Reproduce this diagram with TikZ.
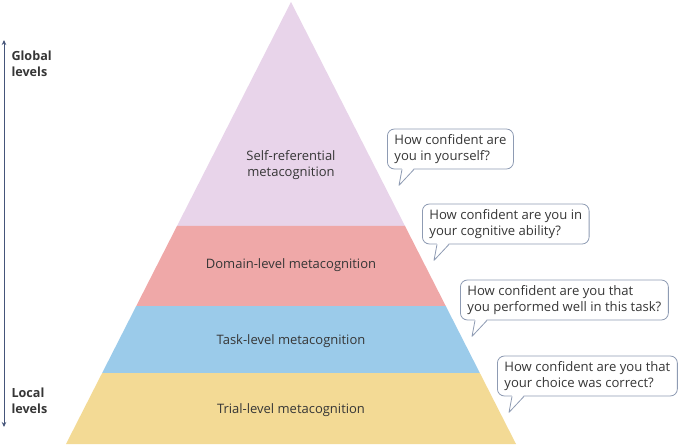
\documentclass[tikz,border=0pt]{standalone}
\usepackage{fontspec}
\setmainfont{Open Sans}
\usetikzlibrary{arrows.meta,calc}
\definecolor{selfcol}{HTML}{E8D4EA}
\definecolor{domcol}{HTML}{EFA8A8}
\definecolor{taskcol}{HTML}{9BCBEA}
\definecolor{trialcol}{HTML}{F3DA95}
\definecolor{bubbleborder}{HTML}{8E9BB3}
\definecolor{arrowcol}{HTML}{45557A}
\definecolor{textgray}{HTML}{363636}
\tikzset{
  bubble/.style={draw=bubbleborder, line width=0.8pt, fill=white, rounded corners=7pt,
    align=left, inner xsep=7pt, inner ysep=5pt, text=textgray,
    font=\fontsize{13.1}{16.8}\selectfont},
  bubbleline/.style={draw=bubbleborder, line width=0.8pt, line join=round},
  bandlabel/.style={text=textgray, align=center, font=\fontsize{13}{16.5}\selectfont},
  levellabel/.style={text=textgray, align=left, anchor=north west, font=\bfseries\fontsize{12.6}{16}\selectfont},
  levelarrow/.style={draw=arrowcol, line width=1pt, {Stealth[length=5pt,width=4.5pt]}-{Stealth[length=5pt,width=4.5pt]}}
}
\newcommand{\bubbletail}[1]{%
  \fill[white] ($(#1.south west)+(15,-1.5)$) -- ($(#1.south west)+(12,16)$) -- ($(#1.south west)+(27,-1.5)$) -- cycle;
  \draw[bubbleline] ($(#1.south west)+(15,0)$) -- ($(#1.south west)+(12,16)$) -- ($(#1.south west)+(27,0)$);
}
\begin{document}
\begin{tikzpicture}[x=1pt,y=-1pt]
\useasboundingbox (0,0) rectangle (685,446);
% pyramid bands
\fill[selfcol] (291,2) -- (405,226) -- (177,226) -- cycle;
\fill[domcol] (177,226) -- (405,226) -- (445.75,306) -- (136.25,306) -- cycle;
\fill[taskcol] (136.25,306) -- (445.75,306) -- (479.86,373) -- (102.14,373) -- cycle;
\fill[trialcol] (102.14,373) -- (479.86,373) -- (516,444) -- (66,444) -- cycle;
% band labels
\node[bandlabel] (self) at (291,165) {Self-referential\\metacognition};
\node[bandlabel] (dom) at (291,265) {Domain-level metacognition};
\node[bandlabel] (task) at (291,341) {Task-level metacognition};
\node[bandlabel] (trial) at (291,410) {Trial-level metacognition};
% level arrow
\coordinate (arrtop) at (4,40);
\coordinate (arrbot) at (4,427);
\draw[levelarrow] (arrtop) -- (arrbot);
\node[levellabel] (global) at (8,47) {Global\\levels};
\node[levellabel] (local) at (8,384) {Local\\levels};
% bubbles
\node[bubble, anchor=west] (b1) at (387,149) {How confident are\\you in yourself?};
\bubbletail{b1}
\node[bubble, anchor=west] (b2) at (422,224) {How confident are you in\\your cognitive ability?};
\bubbletail{b2}
\node[bubble, anchor=west] (b3) at (460,300) {How confident are you that\\you performed well in this task?};
\bubbletail{b3}
\node[bubble, anchor=west] (b4) at (497,376) {How confident are you that\\your choice was correct?};
\bubbletail{b4}
\end{tikzpicture}
\end{document}
